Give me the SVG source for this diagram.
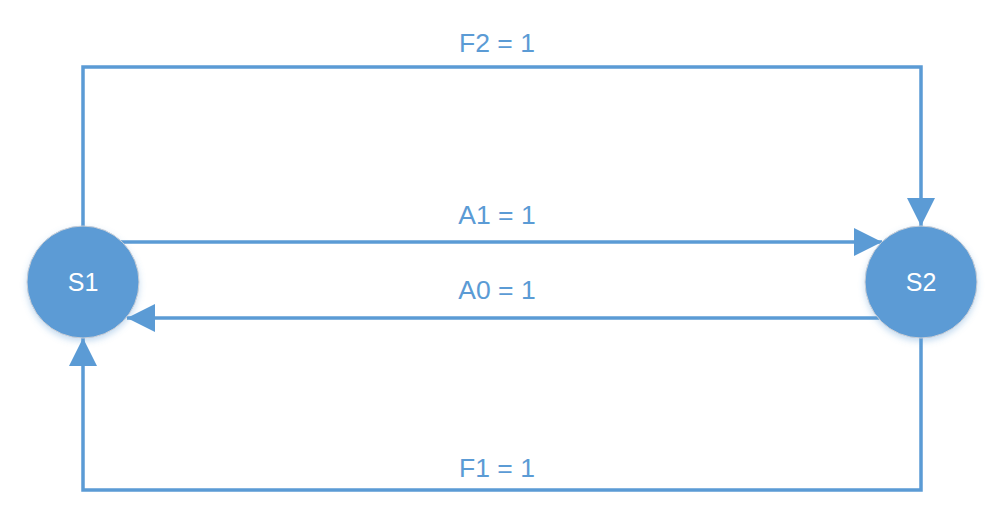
<svg xmlns="http://www.w3.org/2000/svg" width="1007" height="532" viewBox="0 0 1007 532">
  <style>
    .edge { fill: none; stroke: #5B9BD5; stroke-width: 3.5; }
    .node { fill: #5B9BD5; stroke: #C9CED6; stroke-width: 1; filter: url(#shadow); }
    .ntext { font-family: "Liberation Sans", Arial, sans-serif; font-size: 25px; fill: #FFFFFF; text-anchor: middle; }
    .label { font-family: "Liberation Sans", Arial, sans-serif; font-size: 26.5px; fill: #5B9BD5; text-anchor: middle; }
  </style>
  <defs>
    <marker id="arrow" markerUnits="userSpaceOnUse" markerWidth="29" markerHeight="29" refX="28" refY="14" orient="auto">
      <path d="M0,0 L28,14 L0,28 Z" fill="#5B9BD5"/>
    </marker>
    <filter id="shadow" x="-30%" y="-30%" width="160%" height="170%">
      <feDropShadow dx="0" dy="3" stdDeviation="3" flood-color="#5B9BD5" flood-opacity="0.35"/>
    </filter>
  </defs>
  <rect width="1007" height="532" fill="#FFFFFF"/>
  <g id="connectors">
    <path class="edge" d="M83,227 V67 H921 V226" marker-end="url(#arrow)"/>
    <path class="edge" d="M121,242 H882" marker-end="url(#arrow)"/>
    <path class="edge" d="M879,318 H127" marker-end="url(#arrow)"/>
    <path class="edge" d="M921,337 V490 H83 V338" marker-end="url(#arrow)"/>
    <text class="label" x="497" y="52">F2 = 1</text>
    <text class="label" x="497" y="224">A1 = 1</text>
    <text class="label" x="497" y="299">A0 = 1</text>
    <text class="label" x="497" y="477">F1 = 1</text>
  </g>
  <g id="S1">
    <circle class="node" cx="83" cy="282" r="56"/>
    <text class="ntext" x="83" y="291">S1</text>
  </g>
  <g id="S2">
    <circle class="node" cx="921" cy="282" r="56"/>
    <text class="ntext" x="921" y="291">S2</text>
  </g>
</svg>
